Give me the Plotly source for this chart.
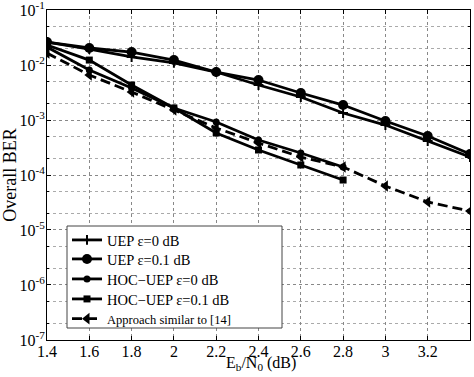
import plotly.graph_objects as go

ebn0 = [1.4, 1.6, 1.8, 2.0, 2.2, 2.4, 2.6, 2.8, 3.0, 3.2, 3.4]
ebn0_hoc = [1.4, 1.6, 1.8, 2.0, 2.2, 2.4, 2.6, 2.8]

uep_e0 = [0.0262, 0.0195, 0.0140, 0.0109, 0.00746, 0.00433, 0.00262, 0.00134, 0.00081, 0.000415, 0.000212]
uep_e01 = [0.0262, 0.0204, 0.0172, 0.0123, 0.00746, 0.00534, 0.0031, 0.00187, 0.00096, 0.000512, 0.000241]
hoc_e0 = [0.0212, 0.0081, 0.00382, 0.00165, 0.00092, 0.000433, 0.000251, 0.00014]
hoc_e01 = [0.0231, 0.0123, 0.00433, 0.00165, 0.00058, 0.000285, 0.000152, 0.000081]
approach14 = [0.0165, 0.00658, 0.00323, 0.00152, 0.000716, 0.000382, 0.000212, 0.00014, 0.0000631, 0.0000323, 0.0000221]

names = ["UEP ε=0 dB", "UEP ε=0.1 dB", "HOC−UEP ε=0 dB", "HOC−UEP ε=0.1 dB",
         "Approach similar to [14]"]

xticks = [1.4, 1.6, 1.8, 2.0, 2.2, 2.4, 2.6, 2.8, 3.0, 3.2]
xticktext = ["1.4", "1.6", "1.8", "2", "2.2", "2.4", "2.6", "2.8", "3", "3.2"]
yticks = [1e-7, 1e-6, 1e-5, 1e-4, 1e-3, 1e-2, 1e-1]
yticktext = ["10<sup>-7</sup>", "10<sup>-6</sup>", "10<sup>-5</sup>", "10<sup>-4</sup>",
             "10<sup>-3</sup>", "10<sup>-2</sup>", "10<sup>-1</sup>"]

font = "Liberation Serif, Times New Roman, serif"
W, H = 474, 377
L, R, T, B = 47, 4, 10, 37
ph = H - T - B

fig = go.Figure()
LW = 2.8
fig.add_trace(go.Scatter(x=ebn0, y=uep_e0, name=names[0], mode="lines+markers", legend="legend",
                         line=dict(color="black", width=LW),
                         marker=dict(symbol="cross-thin", size=7, color="black",
                                     line=dict(color="black", width=2))))
fig.add_trace(go.Scatter(x=ebn0, y=uep_e01, name=names[1], mode="lines+markers", legend="legend2",
                         line=dict(color="black", width=LW),
                         marker=dict(symbol="circle", size=10, color="black")))
fig.add_trace(go.Scatter(x=ebn0_hoc, y=hoc_e0, name=names[2], mode="lines+markers", legend="legend3",
                         line=dict(color="black", width=LW),
                         marker=dict(symbol="circle", size=7, color="black")))
fig.add_trace(go.Scatter(x=ebn0_hoc, y=hoc_e01, name=names[3], mode="lines+markers", legend="legend4",
                         line=dict(color="black", width=LW),
                         marker=dict(symbol="square", size=7, color="black")))
fig.add_trace(go.Scatter(x=ebn0, y=approach14, name=names[4], mode="lines+markers", legend="legend5",
                         line=dict(color="black", width=LW, dash="10px,5px"),
                         marker=dict(symbol="triangle-left", size=10, color="black")))

leg_x = (67 - L) / (W - L - R)
item_centers = [240, 259, 279, 299, 319]
item_sizes = [14.5, 14.5, 14.5, 14.5, 12.5]
legends = {}
for i, (yc, fs) in enumerate(zip(item_centers, item_sizes)):
    key = "legend" if i == 0 else f"legend{i + 1}"
    legends[key] = dict(x=leg_x, y=(H - B - yc) / ph, xanchor="left", yanchor="middle",
                        bgcolor="rgba(0,0,0,0)", borderwidth=0,
                        font=dict(family=font, size=fs, color="black"),
                        itemwidth=30)

fig.update_layout(
    width=W, height=H,
    margin=dict(l=L, r=R, t=T, b=B, autoexpand=False),
    paper_bgcolor="white", plot_bgcolor="white",
    font=dict(family=font, size=15, color="black"),
    showlegend=True,
    shapes=[dict(type="rect", xref="paper", yref="paper",
                 x0=leg_x, x1=(282 - L) / (W - L - R),
                 y0=(H - B - 328) / ph, y1=(H - B - 226) / ph,
                 line=dict(color="#444", width=1), fillcolor="white", layer="above")],
    annotations=[dict(text="E<sub>b</sub>/N<sub>0</sub> (dB)", xref="paper", yref="paper",
                      x=0.505, y=-0.07, xanchor="center", yanchor="middle",
                      showarrow=False, font=dict(family=font, size=16))],
    **legends,
)
fig.update_xaxes(range=[1.4, 3.4], tickvals=xticks, ticktext=xticktext,
                 showline=True, linecolor="black", linewidth=1, mirror="ticks",
                 ticks="inside", ticklen=4, tickcolor="black",
                 showgrid=True, gridcolor="#888", griddash="dot", gridwidth=1,
                 zeroline=False, automargin=False, ticklabelstandoff=-3,
                 tickfont=dict(family=font, size=16))
fig.update_yaxes(type="log", range=[-7.0005, -0.9995], tickvals=yticks, ticktext=yticktext,
                 showline=True, linecolor="black", linewidth=1, mirror="ticks",
                 ticks="inside", ticklen=4, tickcolor="black",
                 showgrid=True, gridcolor="#888", griddash="dot", gridwidth=1,
                 zeroline=False, automargin=False, ticklabelstandoff=-2,
                 ticklabeloverflow="allow",
                 minor=dict(showgrid=True, gridcolor="#aaa", griddash="dot", gridwidth=1,
                            ticks="inside", ticklen=2, tickcolor="black"),
                 title=dict(text="Overall BER", standoff=0, font=dict(family=font, size=18)),
                 tickfont=dict(family=font, size=16))

fig.write_html("out.html", config={"displayModeBar": False},
               post_script="document.body.style.margin='0px';")
